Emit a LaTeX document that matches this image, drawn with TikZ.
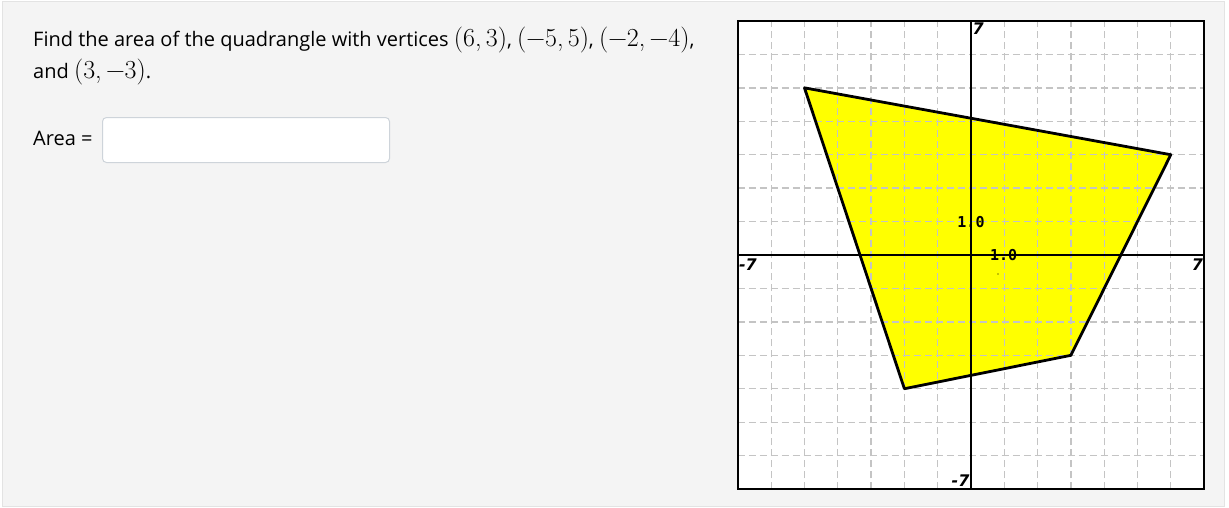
\documentclass[tikz,border=0pt]{standalone}
\usepackage{fontspec}
\setmainfont{Open Sans}
\newfontfamily\lmfont{Latin Modern Roman}
\newfontfamily\labfont{DejaVu Sans Mono}
\newfontfamily\tickfont{DejaVu Sans}
\newcommand{\mth}[1]{{\lmfont\fontsize{26}{32}\selectfont #1}}
\definecolor{bgpanel}{HTML}{F4F4F4}
\definecolor{panelborder}{HTML}{E3E3E3}
\definecolor{inborder}{HTML}{CED4DA}
\definecolor{gridgray}{HTML}{C4C4C4}
\definecolor{polyyellow}{HTML}{FFFF00}
\begin{document}
\begin{tikzpicture}[x=1pt,y=-1pt,
  gridline/.style={gridgray,line width=1.3pt,dash pattern=on 7pt off 4pt},
  axisline/.style={black,line width=1.3pt},
  ticklab/.style={font=\tickfont\bfseries\itshape\fontsize{16}{16}\selectfont,inner sep=0pt},
  unitlab/.style={font=\labfont\bfseries\fontsize{15}{15}\selectfont,inner sep=0pt},
  prose/.style={font=\fontsize{20}{32}\selectfont,inner sep=0pt,anchor=base west}]
\useasboundingbox (0,0) rectangle (1229,507);
\fill[white] (0,0) rectangle (1229,507);
\draw[panelborder,fill=bgpanel,line width=1pt] (2.5,1.5) rectangle (1224,506);
% text
\node[prose] (q1) at (33,46) {Find the area of the quadrangle with vertices \mth{(6,\,3)}, \mth{(−5,\,5)}, \mth{(−2,\,−4)},};
\node[prose] (q2) at (33,78) {and \mth{(3,\,−3)}.};
\node[prose] (arealab) at (33,145) {Area =};
\draw[inborder,fill=white,line width=1pt,rounded corners=4pt] (102.5,117.5) rectangle (389.5,162.5);
\node[inner sep=0pt] (ansbox) at (246,140) {};
% graph box
\fill[white] (738,21) rectangle (1204,489);
\begin{scope}[shift={(971,255)},x=33.3pt,y=33.43pt]
  \coordinate (A) at (6,3);
  \coordinate (B) at (-5,5);
  \coordinate (C) at (-2,-4);
  \coordinate (D) at (3,-3);
  \foreach \k in {-6,...,6}{
    \draw[gridline] (\k,-7) -- (\k,7);
    \draw[gridline] (-7,\k) -- (7,\k);
  }
  \fill[polyyellow] (A) -- (B) -- (C) -- (D) -- cycle;
  \foreach \k in {-6,...,6}{
    \draw[gridline] (\k,-7) -- (\k,7);
    \draw[gridline] (-7,\k) -- (7,\k);
  }
  \draw[axisline] (-7,0) -- (7,0);
  \draw[axisline] (0,-7) -- (0,7);
  \draw[black,line width=2.8pt,line join=round] (A) -- (B) -- (C) -- (D) -- cycle;
  \node[ticklab,anchor=north west] (ytop) at (0.04,6.96) {7};
  \node[ticklab,anchor=north west] (xleft) at (-6.97,-0.12) {-7};
  \node[ticklab,anchor=north east] (xright) at (6.97,-0.12) {7};
  \node[ticklab,anchor=south east] (ybot) at (-0.04,-6.93) {-7};
  \node[unitlab] (u1) at (0,1) {1.0};
  \node[unitlab] (u2) at (0.98,0) {1.0};
  \fill (0.81,-0.57) circle (0.6pt);
\end{scope}
\draw[black,line width=1.5pt] (738,21) rectangle (1204,489);
\end{tikzpicture}
\end{document}
